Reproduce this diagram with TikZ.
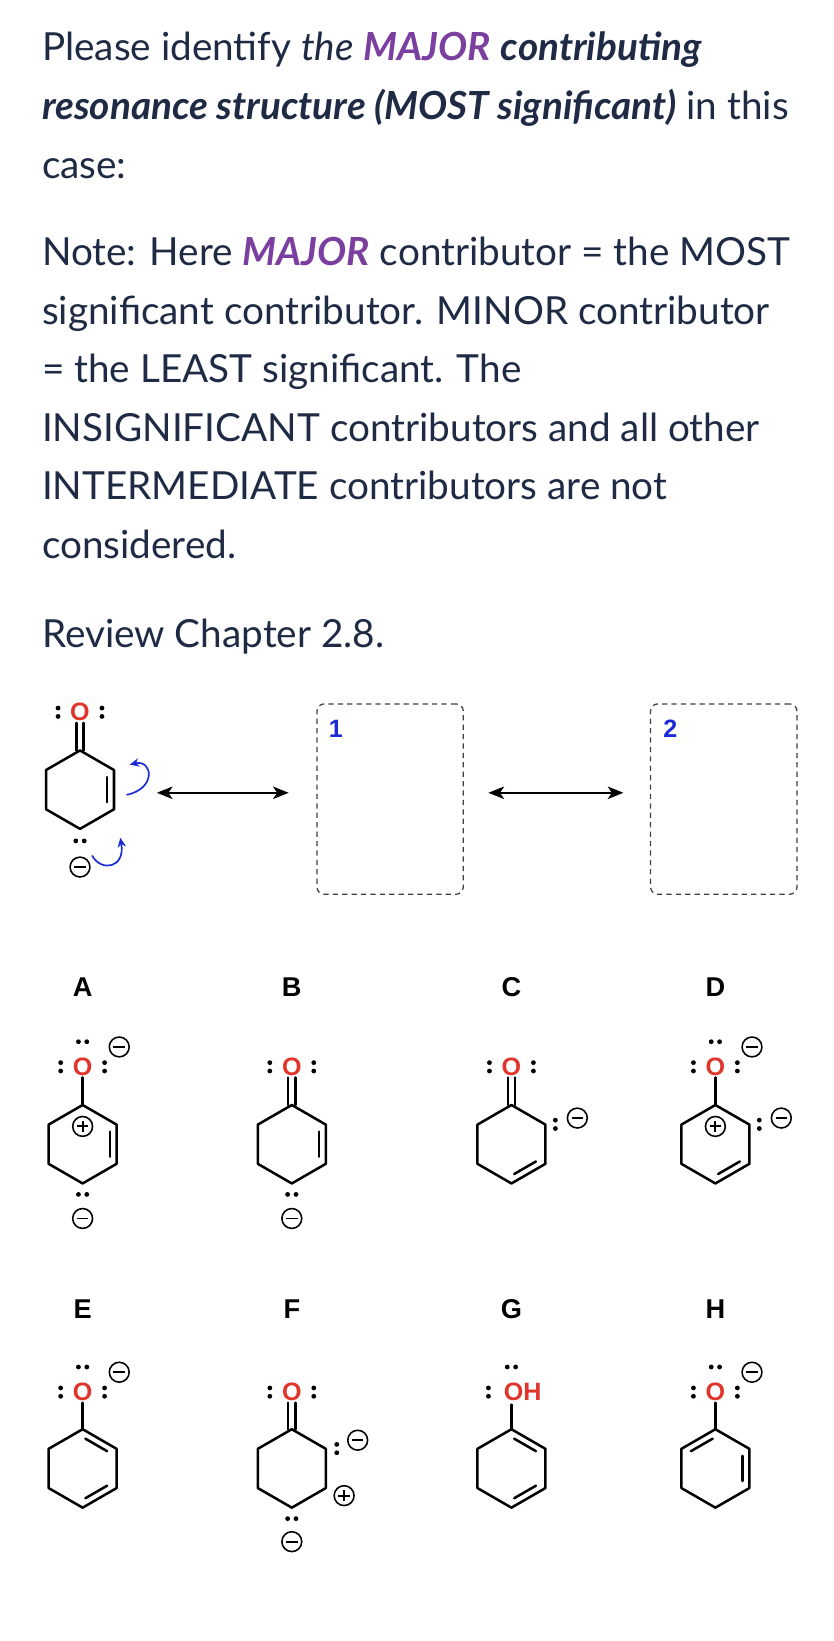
\documentclass[tikz,border=0pt]{standalone}
\usepackage{fontspec}
\setmainfont{Lato}
\newfontfamily\lab{Liberation Sans}
\usetikzlibrary{calc,arrows.meta}
\definecolor{txt}{HTML}{1F2A44}
\definecolor{purp}{HTML}{7B3FA0}
\definecolor{ored}{HTML}{E0352B}
\definecolor{cblue}{HTML}{1A2BD6}
\tikzset{
 bond/.style={line width=2.4pt,line cap=round,line join=round},
 oatom/.style={text=ored,font=\lab\bfseries\fontsize{24}{24}\selectfont,inner sep=1.5pt},
 letter/.style={font=\lab\bfseries\fontsize{26}{26}\selectfont},
 line/.style={anchor=base west,text=txt,font=\fontsize{37}{37}\selectfont,inner sep=0pt},
 curv/.style={draw=cblue,line width=1.6pt,-{Stealth[length=9pt,width=8pt]}},
 dbl/.style={line width=1.4pt,{Stealth[length=15pt,width=12pt,inset=4pt]}-{Stealth[length=15pt,width=12pt,inset=4pt]}},
 box/.style={draw=black!75,dashed,dash pattern=on 5pt off 4pt,line width=1.2pt,rounded corners=7pt,minimum width=140pt,minimum height=182pt},
 boxnum/.style={text=cblue,font=\lab\bfseries\fontsize{24}{24}\selectfont}
}
\newcommand\hexat[3]{%
 \coordinate (#1c) at (#2,#3);
 \coordinate (#1t) at (#2,#3-37.5);
 \coordinate (#1ur) at (#2+32.5,#3-18.75);
 \coordinate (#1lr) at (#2+32.5,#3+18.75);
 \coordinate (#1b) at (#2,#3+37.5);
 \coordinate (#1ll) at (#2-32.5,#3+18.75);
 \coordinate (#1ul) at (#2-32.5,#3-18.75);
 \draw[bond] (#1t)--(#1ur)--(#1lr)--(#1b)--(#1ll)--(#1ul)--cycle;}
\newcommand\inner[3]{\draw[bond,shorten <=3pt,shorten >=3pt] ($(#1c)!0.8!(#1#2)$)--($(#1c)!0.8!(#1#3)$);}
\newcommand\hpair[2]{\fill (#1-4,#2) circle (2.3pt) (#1+4,#2) circle (2.3pt);}
\newcommand\vpair[2]{\fill (#1,#2-4) circle (2.3pt) (#1,#2+4) circle (2.3pt);}
\newcommand\mns[2]{\draw[line width=1.5pt] (#1,#2) circle (9.5pt); \draw[line width=1.8pt] (#1-5.5,#2)--(#1+5.5,#2);}
\newcommand\pls[2]{\draw[line width=1.5pt] (#1,#2) circle (9.5pt); \draw[line width=1.8pt] (#1-5.5,#2)--(#1+5.5,#2) (#1,#2-5.5)--(#1,#2+5.5);}
\newcommand\oxy[3]{\node[oatom] (#1O) at (#2,#3) {O}; \vpair{#2-21}{#3} \vpair{#2+21}{#3}}
\newcommand\dblO[1]{\draw[bond] ([xshift=-3.5pt]#1O.south)--([xshift=-3.5pt]#1t) ([xshift=3.5pt]#1O.south)--([xshift=3.5pt]#1t);}
\newcommand\sglO[1]{\draw[bond] (#1O.south)--(#1t);}
\begin{document}
\begin{tikzpicture}[x=1pt,y=-1pt]
\useasboundingbox (0,0) rectangle (797,1569);
\fill[white] (0,0) rectangle (797,1569);
\node[line] (l1) at (40,58) {Please identify \textit{the} \textbf{\textit{\color{purp}MAJOR}} \textbf{\textit{contributing}}};
\node[line] (l2) at (40,114) {\textbf{\textit{resonance structure (MOST significant)}} in this};
\node[line] (l3) at (40,171) {case:};
\node[line] (l4) at (40,254) {Note: Here \textbf{\textit{\color{purp}MAJOR}} contributor = the MOST};
\node[line] (l5) at (40,310) {significant contributor. MINOR contributor};
\node[line] (l6) at (40,366) {= the LEAST significant. The};
\node[line] (l7) at (40,422) {INSIGNIFICANT contributors and all other};
\node[line] (l8) at (40,478) {INTERMEDIATE contributors are not};
\node[line] (l9) at (40,534) {considered.};
\node[line] (l10) at (40,619) {Review Chapter 2.8.};
% top structure
\hexat{S}{76.5}{755} \inner{S}{ur}{lr}
\oxy{S}{76.5}{681} \dblO{S}
\hpair{76.5}{804} \mns{76.5}{829}
\coordinate (s1) at (121,760); \coordinate (e1) at (124,731);
\draw[curv] (s1) .. controls (150,754) and (146,726) .. (e1);
\coordinate (s2) at (88,818); \coordinate (e2) at (115,801);
\draw[curv] (s2) .. controls (97,834) and (120,830) .. (e2);
\node[box] (box1) at (373,764) {};
\node[box] (box2) at (692,764) {};
\node[boxnum] (n1) at (321,697) {1};
\node[boxnum] (n2) at (641,697) {2};
\coordinate (a1) at (150,758); \coordinate (a2) at (276,758);
\coordinate (a3) at (467,758); \coordinate (a4) at (596,758);
\draw[dbl] (a1)--(a2);
\draw[dbl] (a3)--(a4);
% row 1
\node[letter] (LA) at (79,944) {A};
\node[letter] (LB) at (279,944) {B};
\node[letter] (LC) at (489,944) {C};
\node[letter] (LD) at (684,944) {D};
\hexat{A}{79}{1094} \inner{A}{ur}{lr}
\oxy{A}{79}{1020} \sglO{A} \hpair{79}{996} \mns{114}{1001} \pls{79}{1077}
\hpair{79}{1142} \mns{79}{1165}
\hexat{B}{279}{1094} \inner{B}{ur}{lr}
\oxy{B}{279}{1020} \dblO{B}
\hpair{279}{1142} \mns{279}{1165}
\hexat{C}{489}{1094} \inner{C}{lr}{b}
\oxy{C}{489}{1020} \dblO{C}
\vpair{531}{1075} \mns{552}{1069}
\hexat{D}{684}{1094} \inner{D}{lr}{b}
\oxy{D}{684}{1020} \sglO{D} \hpair{684}{996} \mns{719}{1001} \pls{684}{1077}
\vpair{726}{1075} \mns{747}{1069}
% row 2
\node[letter] (LE) at (79,1252) {E};
\node[letter] (LF) at (279,1252) {F};
\node[letter] (LG) at (489,1252) {G};
\node[letter] (LH) at (684,1252) {H};
\hexat{E}{79}{1404} \inner{E}{t}{ur} \inner{E}{lr}{b}
\oxy{E}{79}{1331} \sglO{E} \hpair{79}{1307} \mns{114}{1312}
\hexat{F}{279}{1404}
\oxy{F}{279}{1331} \dblO{F}
\vpair{322}{1385} \mns{342}{1377} \pls{329}{1430}
\hpair{279}{1452} \mns{279}{1474}
\hexat{G}{489}{1404} \inner{G}{t}{ur} \inner{G}{lr}{b}
\node[oatom,anchor=west] (GO) at (480,1331) {OH};
\draw[bond] (489,1343)--(Gt);
\vpair{467}{1331} \hpair{489}{1307}
\hexat{H}{684}{1404} \inner{H}{t}{ul} \inner{H}{ur}{lr}
\oxy{H}{684}{1331} \sglO{H} \hpair{684}{1307} \mns{719}{1312}
\end{tikzpicture}
\end{document}
